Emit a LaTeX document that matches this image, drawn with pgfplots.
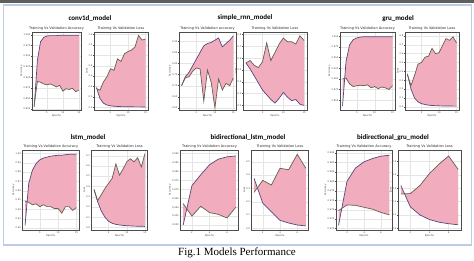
\documentclass[border=0pt]{standalone}
\usepackage{fontspec}
\setmainfont{Liberation Serif}
\newfontfamily\dv{DejaVu Sans}
\newfontfamily\carl{Carlito}
\usepackage{pgfplots}
\pgfplotsset{compat=1.18}
\usepackage{pgfplotstable}
\usepgfplotslibrary{fillbetween}
\definecolor{pinkf}{RGB}{241,172,189}
\definecolor{trc}{RGB}{88,70,122}
\definecolor{vac}{RGB}{100,96,78}
\definecolor{framec}{RGB}{188,204,232}
\definecolor{topbar}{RGB}{95,95,95}

\pgfplotstableread{
e ta va tl vl
1 0.830 0.835 0.38 0.36
2 0.940 0.890 0.17 0.33
3 0.984 0.888 0.08 0.49
4 0.994 0.884 0.045 0.59
5 0.997 0.882 0.030 0.74
6 0.998 0.884 0.022 0.71
7 0.998 0.881 0.018 0.93
8 0.998 0.877 0.015 0.88
9 0.999 0.881 0.013 1.03
10 0.999 0.867 0.012 1.07
11 0.999 0.873 0.011 1.10
12 0.999 0.871 0.010 1.16
13 0.999 0.874 0.010 1.38
14 0.999 0.866 0.009 1.29
15 0.999 0.869 0.009 1.31
}\tconv

\pgfplotstableread{
e ta va tl vl
1 0.700 0.700 0.56 0.56
2 0.740 0.735 0.51 0.58
3 0.760 0.740 0.45 0.54
4 0.790 0.765 0.39 0.52
5 0.820 0.780 0.33 0.57
6 0.850 0.775 0.29 0.73
7 0.880 0.630 0.25 0.58
8 0.890 0.770 0.22 0.65
9 0.895 0.715 0.26 0.72
10 0.905 0.600 0.31 0.77
11 0.915 0.730 0.27 0.74
12 0.875 0.680 0.24 0.74
13 0.890 0.710 0.25 0.72
14 0.905 0.700 0.21 0.79
15 0.925 0.735 0.20 0.75
}\trnn

\pgfplotstableread{
e ta va tl vl
1 0.836 0.900 0.37 0.36
2 0.942 0.902 0.20 0.24
3 0.980 0.888 0.10 0.35
4 0.992 0.882 0.055 0.48
5 0.996 0.884 0.035 0.50
6 0.998 0.885 0.025 0.56
7 0.999 0.884 0.018 0.57
8 0.999 0.886 0.014 0.66
9 0.999 0.879 0.012 0.60
10 0.999 0.882 0.010 0.61
11 0.999 0.877 0.009 0.69
12 0.999 0.881 0.008 0.77
13 0.999 0.879 0.008 0.75
14 0.999 0.875 0.007 0.79
15 0.999 0.884 0.007 0.72
}\tgru

\pgfplotstableread{
e ta va tl vl
1 0.923 0.949 0.37 0.37
2 0.968 0.9475 0.25 0.26
3 0.982 0.945 0.16 0.32
4 0.989 0.946 0.10 0.38
5 0.993 0.943 0.06 0.43
6 0.995 0.945 0.04 0.48
7 0.996 0.943 0.03 0.62
8 0.997 0.943 0.024 0.51
9 0.9975 0.941 0.020 0.57
10 0.998 0.941 0.017 0.64
11 0.998 0.936 0.015 0.67
12 0.9985 0.943 0.013 0.64
13 0.999 0.943 0.012 0.68
14 0.999 0.939 0.011 0.59
15 0.999 0.942 0.010 0.72
}\tlstm

\pgfplotstableread{
e ta va tl vl
1 0.950 0.962 0.375 0.27
2 0.972 0.955 0.19 0.36
3 0.978 0.9605 0.125 0.325
4 0.9836 0.957 0.06 0.45
5 0.9867 0.956 0.04 0.44
6 0.988 0.954 0.025 0.555
7 0.9885 0.960 0.018 0.45
}\tbil

\pgfplotstableread{
e ta va tl vl
1 0.9707 0.9738 0.32 0.256
2 0.9800 0.9750 0.16 0.26
3 0.9828 0.9749 0.10 0.32
4 0.9841 0.9745 0.066 0.41
5 0.9848 0.9741 0.046 0.48
6 0.9853 0.9734 0.035 0.54
7 0.9855 0.9729 0.027 0.44
}\tbig

\pgfplotsset{
  mp/.style={scale only axis, anchor=south west,
    axis line style={draw=black!70, line width=0.35pt},
    tick align=outside, tick pos=left, major tick length=1pt,
    tick style={draw=black!70, line width=0.3pt},
    grid=major, grid style={black!10, line width=0.25pt},
    scaled ticks=false,
    /pgf/number format/assume math mode=true,
    ticklabel style={font=\dv\fontsize{2.3}{2.6}\selectfont, text=black!75, inner sep=0.5pt},
    label style={font=\dv\fontsize{2.5}{3}\selectfont, text=black!75, inner sep=0.4pt},
    title style={font=\dv\fontsize{3.5}{4}\selectfont, text=black!85, inner sep=0.5pt, yshift=-5pt},
    xlabel={Epochs}},
  ep15/.style={xmin=0.3, xmax=15.7, xtick={5,10,15}},
  ep7/.style={xmin=0.7, xmax=7.3, xtick={2,4,6}},
  acc/.style={ylabel={Accuracy}, title={Training Vs Validation Accuracy}},
  los/.style={ylabel={Loss}, title={Training Vs Validation Loss}},
  pr/.style={yticklabel style={/pgf/number format/.cd, fixed, fixed zerofill, precision=#1}},
}

\newcommand{\curves}[4]{%
  \addplot[name path=#4t, trc, line width=0.7pt, no markers, sharp plot] table[x=e,y=#2]{#1};
  \addplot[name path=#4v, vac, line width=0.7pt, no markers, sharp plot] table[x=e,y=#3]{#1};
  \addplot[fill=pinkf, draw=none] fill between[of=#4t and #4v];
}
\newcommand{\mt}{\carl\bfseries\fontsize{7}{8}\selectfont}

\begin{document}
\begin{tikzpicture}
\path (0pt,0pt) rectangle (474pt,260pt);
\fill[topbar] (0pt,257.2pt) rectangle (474pt,260pt);
\draw[framec, line width=1.4pt] (3.2pt,15pt) rectangle (471.3pt,254.8pt);

% ---------- top row ----------
\node[font=\mt] at (90pt,241pt) {conv1d\_model};
\node[font=\mt] at (245pt,242pt) {simple\_rnn\_model};
\node[font=\mt] at (398pt,241pt) {gru\_model};

\begin{axis}[mp, acc, ep15, pr=3, at={(32pt,150pt)}, width=49pt, height=78pt,
  ymin=0.8226, ymax=1.0066, ytick={0.825,0.85,0.875,0.9,0.925,0.95,0.975,1.0}]
\curves{\tconv}{ta}{va}{a}
\end{axis}
\begin{axis}[mp, los, ep15, pr=1, at={(94pt,150pt)}, width=54pt, height=78pt,
  ymin=-0.05, ymax=1.445, ytick={0,0.2,0.4,0.6,0.8,1.0,1.2,1.4}]
\curves{\tconv}{tl}{vl}{b}
\end{axis}

\begin{axis}[mp, ep15, pr=2, ylabel={Accuracy}, title={Training Vs Validation accuracy},
  at={(179pt,150pt)}, width=57pt, height=78pt,
  ymin=0.59, ymax=0.942, ytick={0.6,0.65,0.7,0.75,0.8,0.85,0.9}]
\curves{\trnn}{ta}{va}{c}
\end{axis}
\begin{axis}[mp, los, ep15, pr=1, at={(243pt,150pt)}, width=64pt, height=78pt,
  ymin=0.161, ymax=0.822, ytick={0.2,0.3,0.4,0.5,0.6,0.7,0.8}]
\curves{\trnn}{tl}{vl}{d}
\end{axis}

\begin{axis}[mp, acc, ep15, pr=3, at={(340pt,150pt)}, width=55pt, height=78pt,
  ymin=0.827, ymax=1.010, ytick={0.85,0.875,0.9,0.925,0.95,0.975,1.0}]
\curves{\tgru}{ta}{va}{e}
\end{axis}
\begin{axis}[mp, los, ep15, pr=1, at={(405pt,150pt)}, width=54pt, height=78pt,
  ymin=-0.037, ymax=0.844, ytick={0,0.1,0.2,0.3,0.4,0.5,0.6,0.7,0.8}]
\curves{\tgru}{tl}{vl}{f}
\end{axis}

% ---------- bottom row ----------
\node[font=\mt] at (88pt,122pt) {lstm\_model};
\node[font=\mt] at (248pt,122pt) {bidirectional\_lstm\_model};
\node[font=\mt] at (393pt,122pt) {bidirectional\_gru\_model};

\begin{axis}[mp, acc, ep15, pr=2, at={(22.5pt,30pt)}, width=56.5pt, height=80pt,
  ymin=0.918, ymax=1.0036, ytick={0.92,0.93,0.94,0.95,0.96,0.97,0.98,0.99,1.0}]
\curves{\tlstm}{ta}{va}{g}
\end{axis}
\begin{axis}[mp, los, ep15, pr=1, at={(91.5pt,30pt)}, width=56pt, height=80pt,
  ymin=-0.025, ymax=0.755, ytick={0,0.1,0.2,0.3,0.4,0.5,0.6,0.7}]
\curves{\tlstm}{tl}{vl}{h}
\end{axis}

\begin{axis}[mp, acc, ep7, pr=3, at={(180.5pt,30pt)}, width=58pt, height=80pt,
  ymin=0.9473, ymax=0.9918, ytick={0.95,0.955,0.96,0.965,0.97,0.975,0.98,0.985,0.99}]
\curves{\tbil}{ta}{va}{i}
\end{axis}
\begin{axis}[mp, los, ep7, pr=1, at={(251.5pt,30pt)}, width=57pt, height=80pt,
  ymin=-0.0125, ymax=0.5875, ytick={0,0.1,0.2,0.3,0.4,0.5}]
\curves{\tbil}{tl}{vl}{j}
\end{axis}

\begin{axis}[mp, acc, ep7, pr=3, at={(336pt,30pt)}, width=56pt, height=80pt,
  ymin=0.9697, ymax=0.9866, ytick={0.970,0.972,0.974,0.976,0.978,0.980,0.982,0.984,0.986}]
\curves{\tbig}{ta}{va}{k}
\end{axis}
\begin{axis}[mp, los, ep7, pr=1, at={(398pt,30pt)}, width=63pt, height=80pt,
  ymin=-0.012, ymax=0.585, ytick={0,0.1,0.2,0.3,0.4,0.5}]
\curves{\tbig}{tl}{vl}{l}
\end{axis}

\node[font=\fontsize{11}{12}\selectfont] at (237pt,7.5pt) {Fig.1 Models Performance};
\end{tikzpicture}
\end{document}
